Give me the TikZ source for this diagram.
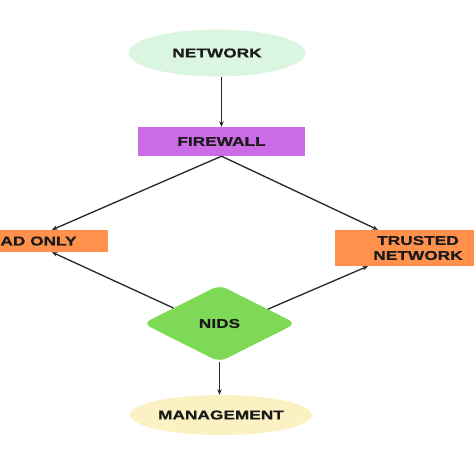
\documentclass[tikz,border=0pt]{standalone}
\usepackage{fontspec}
\newfontfamily\labfont[FakeStretch=1.35,FakeBold=0.8]{Liberation Sans}
\usetikzlibrary{shapes.geometric,arrows.meta,calc}
\definecolor{netgreen}{HTML}{DAF6E0}
\definecolor{fwpurple}{HTML}{CB6CE6}
\definecolor{boxorange}{HTML}{FF914D}
\definecolor{nidsgreen}{HTML}{7ED957}
\definecolor{mgmtyellow}{HTML}{FBF1C3}
\definecolor{txt}{HTML}{1A1A1A}
\begin{document}
\begin{tikzpicture}[x=1pt,y=-1pt,
  lbl/.style={font=\labfont\bfseries\fontsize{12.8}{15}\selectfont, text=txt, align=center, inner sep=0pt},
  ell/.style={ellipse, lbl},
  boxnode/.style={rectangle, lbl},
  conn/.style={draw=black!85, line width=1.3pt, -{Stealth[length=5.5pt,width=4.5pt]}}]
\useasboundingbox[fill=white] (0,0) rectangle (474,474);
\node[ell, fill=netgreen, minimum width=177pt, minimum height=47pt] (net) at (217,53) {NETWORK};
\node[boxnode, fill=fwpurple, minimum width=167pt, minimum height=29pt] (fw) at (221.5,141.5) {FIREWALL};
\node[boxnode, fill=boxorange, minimum width=143pt, minimum height=22pt, text depth=0pt] (rd) at (36.5,241) {\hspace*{4pt}AD ONLY};
\node[boxnode, fill=boxorange, minimum width=166pt, minimum height=36pt] (tr) at (418,248) {TRUSTED\\NETWORK};
\node[diamond, lbl, fill=nidsgreen, minimum width=153pt, minimum height=77pt, aspect=2, rounded corners=8pt] (nids) at (219.5,323.5) {NIDS};
\node[ell, fill=mgmtyellow, minimum width=182pt, minimum height=40pt] (mg) at (221,415) {MANAGEMENT};
\draw[conn] (net.south -| fw.north) -- (fw.north);
\draw[conn] (fw.south) -- ($(rd.north west)!0.608!(rd.north east)$);
\draw[conn] (fw.south) -- ($(tr.north west)!0.259!(tr.north east)$);
\draw[conn] ($(nids.west)!0.4!(nids.north)$) -- ($(rd.south west)!0.608!(rd.south east)$);
\draw[conn] ($(nids.north)!0.63!(nids.east)$) -- ($(tr.south west)!0.199!(tr.south east)$);
\draw[conn] (nids.south) -- (nids.south |- mg.north);
\end{tikzpicture}
\end{document}
